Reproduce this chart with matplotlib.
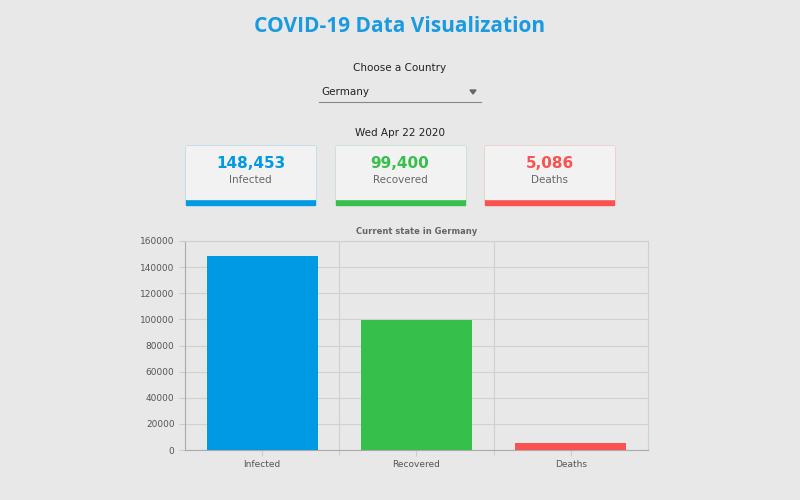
import matplotlib
matplotlib.use("Agg")
import matplotlib.pyplot as plt
from matplotlib.patches import FancyBboxPatch, Rectangle

categories = ["Infected", "Recovered", "Deaths"]
values = [148453, 99400, 5086]
card_labels = ["148,453", "99,400", "5,086"]
colors = ["#0099e3", "#36bf4a", "#fa5151"]
yticks = [0, 20000, 40000, 60000, 80000, 100000, 120000, 140000, 160000]

W, H = 800, 500
fig = plt.figure(figsize=(8, 5), dpi=100, facecolor="#e8e8e8")
def fx(x): return x / W
def fy(y): return 1 - y / H

fig.text(0.5, fy(27), "COVID-19 Data Visualization", ha="center", va="center",
         fontsize=15, fontweight="bold", color="#1a9ae0", family="Open Sans")
fig.text(0.5, fy(68), "Choose a Country", ha="center", va="center", fontsize=7.5, color="#222")
fig.text(fx(321), fy(92), "Germany", ha="left", va="center", fontsize=7.5, color="#222")
fig.add_artist(plt.Line2D([fx(319), fx(481)], [fy(102), fy(102)], color="#888", lw=0.8))
fig.add_artist(plt.Polygon([[fx(470), fy(90)], [fx(476), fy(90)], [fx(473), fy(94)]], color="#666"))
fig.text(0.5, fy(133), "Wed Apr 22 2020", ha="center", va="center", fontsize=7.5, color="#222")

for i, (lab, cat, c) in enumerate(zip(card_labels, categories, colors)):
    x0 = 186 + i * 149.5
    fig.add_artist(Rectangle((fx(x0), fy(205)), fx(129), 59 / H, color=c, transform=fig.transFigure))
    fig.add_artist(Rectangle((fx(x0), fy(199)), fx(129), 53 / H, color="#f2f2f2", transform=fig.transFigure))
    cx = fx(x0 + 64.5)
    fig.text(cx, fy(163), lab, ha="center", va="center", fontsize=11, fontweight="bold", color=c)
    fig.text(cx, fy(180), cat, ha="center", va="center", fontsize=7.5, color="#666")

ax = fig.add_axes([fx(185), fy(450), fx(463), 209 / H])
ax.set_facecolor("#e8e8e8")
ax.bar(range(3), values, width=0.72, color=colors, zorder=3)
ax.set_xlim(-0.5, 2.5)
ax.set_ylim(0, 160000)
ax.set_yticks(yticks)
ax.set_yticklabels([str(v) for v in yticks], fontsize=6.5, color="#555")
ax.set_xticks(range(3))
ax.set_xticklabels(categories, fontsize=6.5, color="#555")
ax.set_xticks([0.5, 1.5], minor=True)
ax.grid(axis="y", color="#d0d0d0", lw=0.8, zorder=0)
ax.grid(axis="x", which="minor", color="#d0d0d0", lw=0.8, zorder=0)
ax.tick_params(which="both", length=4, color="#ccc")
for s in ["top", "right"]:
    ax.spines[s].set_color("#d0d0d0")
for s in ["left", "bottom"]:
    ax.spines[s].set_color("#aaa")
ax.set_title("Current state in Germany", fontsize=6, fontweight="bold", color="#666", pad=5)

fig.savefig("out.png", dpi=100, facecolor=fig.get_facecolor())
